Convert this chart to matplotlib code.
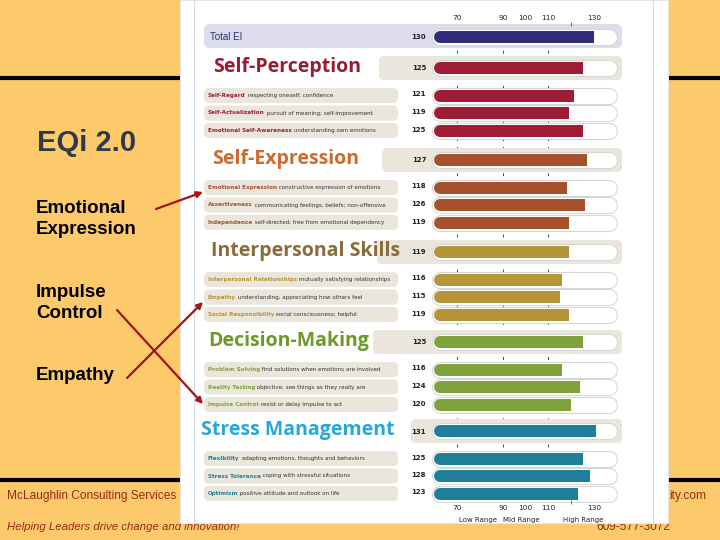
import matplotlib
matplotlib.use('Agg')
import matplotlib.pyplot as plt
import matplotlib.transforms as mtransforms
import matplotlib.patheffects as pe
from matplotlib.patches import FancyBboxPatch, Rectangle

# ---- data ----
total_label = 'Total EI'
total_score = 130

composites = ['Self-Perception', 'Self-Expression', 'Interpersonal Skills',
              'Decision-Making', 'Stress Management']
composite_scores = [125, 127, 119, 125, 131]

subscales = [
    ['Self-Regard', 'Self-Actualization', 'Emotional Self-Awareness'],
    ['Emotional Expression', 'Assertiveness', 'Independence'],
    ['Interpersonal Relationships', 'Empathy', 'Social Responsibility'],
    ['Problem Solving', 'Reality Testing', 'Impulse Control'],
    ['Flexibility', 'Stress Tolerance', 'Optimism'],
]
descriptions = [
    ['respecting oneself; confidence', 'pursuit of meaning; self-improvement',
     'understanding own emotions'],
    ['constructive expression of emotions',
     'communicating feelings, beliefs; non-offensive',
     'self-directed; free from emotional dependency'],
    ['mutually satisfying relationships',
     'understanding, appreciating how others feel',
     'social consciousness; helpful'],
    ['find solutions when emotions are involved',
     'objective; see things as they really are',
     'resist or delay impulse to act'],
    ['adapting emotions, thoughts and behaviors',
     'coping with stressful situations',
     'positive attitude and outlook on life'],
]
subscale_scores = [[121, 119, 125], [118, 126, 119], [116, 115, 119],
                   [116, 124, 120], [125, 128, 123]]

scale_ticks = [70, 90, 100, 110, 130]
range_labels = ['Low Range', 'Mid Range', 'High Range']

side_items = ['Emotional\nExpression', 'Impulse\nControl', 'Empathy']

# ---- styling ----
title_colors = ['#9b1b33', '#cf6a2c', '#8c6a3c', '#6c9a27', '#2aa7d6']
bar_colors = ['#9e1c34', '#a5512b', '#b59538', '#80a23c', '#1f7f99']
total_color = '#332c7b'
slide_bg = '#fdca6b'
beige = '#ebe6dc'
red = '#a31515'
footer_color = '#9a2a18'
PX = 2.275   # pixels per score point

fig = plt.figure(figsize=(7.2, 5.4), dpi=100)
fig.patch.set_facecolor(slide_bg)

ax = fig.add_axes([0, 0, 1, 1])
ax.set_xlim(0, 720)
ax.set_ylim(540, 0)
ax.axis('off')
ax.set_autoscale_on(False)

# score scale axes laid over the bar area (frame 432..617 px, 22..504 px)
sc = fig.add_axes([432 / 720, (540 - 504) / 540, 185 / 720, 482 / 540])
sc.set_xlim(59, 140)
sc.set_ylim(504, 22)
sc.patch.set_visible(False)
for s in sc.spines.values():
    s.set_visible(False)
sc.set_yticks([])
sc.set_xticks(scale_ticks)
sc.set_xticks([120], minor=True)
sc.tick_params(axis='x', which='major', top=True, labeltop=True, length=0,
               pad=0.5, labelsize=5.3, colors='#222222')
sc.tick_params(axis='x', which='minor', top=True, bottom=True, length=3,
               direction='in', width=0.6, color='#555555')
sc.set_zorder(5)

st = mtransforms.blended_transform_factory(sc.transData, ax.transData)

# ---- slide decorations ----
ax.plot([0, 720], [78, 78], color='black', lw=3, zorder=1)
ax.plot([0, 720], [480, 480], color='black', lw=3, zorder=1)

ax.text(7, 496, 'McLaughlin Consulting Services', fontsize=8.6,
        family='Liberation Sans', color=footer_color, va='center', zorder=1)
ax.text(669, 496, 'ity.com', fontsize=8.6, family='Liberation Sans',
        color=footer_color, va='center', zorder=1)
ax.text(7, 526.5, 'Helping Leaders drive change and innovation!',
        fontsize=8.2, family='Liberation Sans', style='italic',
        color=footer_color, va='center', zorder=1)
ax.text(670, 526.5, '609-577-3072', fontsize=8.6, family='Liberation Sans',
        color=footer_color, va='center', ha='right', zorder=1)

ax.text(37, 143, 'EQi 2.0', fontsize=21, family='Liberation Sans',
        fontweight='bold', color='#2f3a4a', va='center', zorder=1)
for txt, yy in zip(side_items, [219, 303, 376]):
    ax.text(36, yy, txt, fontsize=13.5, family='Liberation Sans',
            fontweight='bold', color='black', va='center',
            linespacing=1.35, zorder=1)

# white report panel
ax.add_patch(Rectangle((180, 0), 488, 523, facecolor='white',
                       edgecolor='#e6e6e6', lw=0.8, zorder=2))
ax.plot([194, 194], [0, 523], color='#d2dde4', lw=0.8, zorder=2)
ax.plot([653, 653], [0, 523], color='#d2dde4', lw=0.8, zorder=2)

# dashed guide lines
for t in [70, 90, 110]:
    ax.plot([t, t], [24, 503], transform=st, color='#444444', lw=0.7,
            ls=(0, (3, 6)), zorder=3)


def rounded(x0, y0, w, h, r, fc, z=4):
    ax.add_patch(FancyBboxPatch((x0, y0), w, h,
                                boxstyle='round,pad=0,rounding_size=%g' % r,
                                facecolor=fc, edgecolor='none', zorder=z))


def score_bar(y, value, color, h=12):
    # white rounded frame with a light grey rim
    fh = h + 3
    r = fh / 2 / PX
    ax.plot([59 + r, 140 - r], [y, y], transform=st, color='white',
            lw=fh * 0.72, solid_capstyle='round', zorder=5,
            path_effects=[pe.Stroke(linewidth=fh * 0.72 + 1.5,
                                    foreground='#d6d6d6'), pe.Normal()])
    # coloured fill: rounded left end, square right end
    r2 = h / 2 / PX
    ax.plot([59 + r + 0.1, value - r2], [y, y], transform=st, color=color,
            lw=h * 0.72, solid_capstyle='round', zorder=6)
    ax.plot([59 + r + 0.1, value], [y, y], transform=st, color=color,
            lw=h * 0.72, solid_capstyle='butt', zorder=6)


# Total EI row
rounded(204, 24, 418, 24, 6, '#dcdcec')
ax.text(210, 36.5, total_label, fontsize=7, color='#2c2f7a', va='center',
        family='Liberation Sans', zorder=7)
ax.text(419, 37, str(total_score), fontsize=5, color='#222222', va='center',
        ha='center', fontweight='bold', zorder=7)
score_bar(36.5, total_score, total_color)

header_y = [68, 160, 252, 342, 431]
header_x0 = [379, 382, 377, 373, 411]
title_x = [213, 212, 211, 208, 201]
for i, name in enumerate(composites):
    hy = header_y[i]
    # beige header band
    rounded(header_x0[i], hy - 12, 622 - header_x0[i], 24, 5, beige, z=3.5)
    ax.text(title_x[i], hy - 1, name, fontsize=14, family='Open Sans',
            fontweight='bold', color=title_colors[i], va='center',
            zorder=7)
    ax.text(419, hy + 0.5, str(composite_scores[i]), fontsize=5,
            color='#222222', va='center', ha='center', fontweight='bold',
            zorder=7)
    score_bar(hy, composite_scores[i], bar_colors[i])
    for k in range(3):
        ry = hy + 27.5 + 17.5 * k
        rounded(204, ry - 7.5, 194, 15, 5, beige, z=4)
        t1 = ax.text(208, ry, subscales[i][k], fontsize=4.1,
                     fontweight='bold', color=bar_colors[i], va='center',
                     zorder=7)
        ax.annotate(' ' + descriptions[i][k], xycoords=t1,
                    xy=(1, 0.5), va='center', fontsize=4.1,
                    color='#333333', zorder=7)
        ax.text(418, ry - 1, str(subscale_scores[i][k]), fontsize=5,
                color='#222222', va='center', ha='center',
                fontweight='bold', zorder=7)
        score_bar(ry, subscale_scores[i][k], bar_colors[i])

for lab, xc in zip(range_labels, [79, 98, 125]):
    ax.text(xc, 520, lab, transform=st, fontsize=5, color='#222222',
            ha='center', va='center', zorder=7)

# arrows from the side words into the report
arrow_kw = dict(arrowstyle='-|>', color=red, lw=1.6, mutation_scale=9,
                shrinkA=0, shrinkB=0)
ax.annotate('', xy=(203, 192), xytext=(156, 209), arrowprops=arrow_kw,
            zorder=8)
ax.annotate('', xy=(203, 404), xytext=(117, 310), arrowprops=arrow_kw,
            zorder=8)
ax.annotate('', xy=(203, 302), xytext=(127, 378), arrowprops=arrow_kw,
            zorder=8)

fig.savefig('out.png', dpi=100, facecolor=slide_bg)
